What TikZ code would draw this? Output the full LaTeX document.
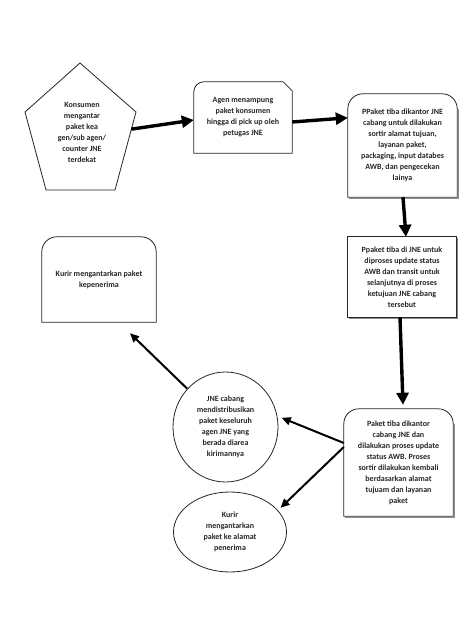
\documentclass[tikz,border=0pt]{standalone}
\usepackage{fontspec}
\setmainfont{Carlito}
\usetikzlibrary{arrows.meta,calc,shapes.geometric}
\tikzset{
  boxtext/.style={align=center,font=\fontsize{8}{11}\selectfont\bfseries,text=black!85,inner sep=0pt},
  outline/.style={draw=black!85,line width=0.8pt},
  shadowline/.style={draw=black!45,line width=0.8pt},
  bigarrow/.style={draw=black,line width=3.4pt,-{Triangle[length=12pt,width=12pt]}},
  thinarrow/.style={draw=black,line width=2pt,-{Triangle[length=9pt,width=8pt]}},
}
\begin{document}
\begin{tikzpicture}[x=1pt,y=1pt]
\useasboundingbox[fill=white] (0,0) rectangle (474,-632);

% pentagon
\coordinate (pt) at (80,-63);
\coordinate (pl) at (25,-112);
\coordinate (pr) at (136,-112);
\coordinate (pbl) at (46,-190);
\coordinate (pbr) at (115,-190);
\draw[outline] (pt) -- (pr) -- (pbr) -- (pbl) -- (pl) -- cycle;
\node[boxtext] (p) at (82,-132) {Konsumen\\mengantar\\paket kea\\gen/sub agen/\\counter JNE\\terdekat};
\coordinate (pout) at ($(pr)!0.22!(pbr)$);

% box 2 (rounded top-left, snipped top-right)
\node[boxtext,minimum width=98pt,minimum height=71pt] (b2) at (243,-117.5) {Agen menampung\\paket konsumen\\hingga di pick up oleh\\petugas JNE};
\draw[outline] (b2.south west) -- ([yshift=-10pt]b2.north west) arc[start angle=180,end angle=90,radius=10pt] -- ([xshift=-9pt]b2.north east) -- ([yshift=-9pt]b2.north east) -- (b2.south east) -- cycle;

% box 3
\node[boxtext,minimum width=109pt,minimum height=103pt] (b3) at (402.5,-145.5) {PPaket tiba dikantor JNE\\cabang untuk dilakukan\\sortir alamat tujuan,\\layanan paket,\\packaging, input databes\\AWB, dan pengecekan\\lainya};
\draw[shadowline] ([shift={(1pt,-1pt)}]b3.south west) -- ([shift={(1pt,-1pt)}]b3.south east) -- ([shift={(1pt,-15pt)}]b3.north east);
\draw[outline] (b3.south west) -- ([yshift=-15pt]b3.north west) arc[start angle=180,end angle=90,radius=15pt] -- ([xshift=-15pt]b3.north east) arc[start angle=90,end angle=0,radius=15pt] -- (b3.south east) -- cycle;

% box 4
\node[boxtext,minimum width=108pt,minimum height=80pt] (b4) at (402,-277) {Ppaket tiba di JNE untuk\\diproses update status\\AWB dan transit untuk\\selanjutnya di proses\\ketujuan JNE cabang\\tersebut};
\draw[shadowline] ([shift={(1pt,-1pt)}]b4.south west) -- ([shift={(1pt,-1pt)}]b4.south east) -- ([shift={(1pt,-1pt)}]b4.north east);
\draw[outline] (b4.south west) rectangle (b4.north east);

% box 5
\node[boxtext,minimum width=114pt,minimum height=85pt] (b5) at (99,-279.5) {Kurir mengantarkan paket\\kepenerima};
\draw[outline] (b5.south west) -- ([yshift=-15pt]b5.north west) arc[start angle=180,end angle=90,radius=15pt] -- ([xshift=-15pt]b5.north east) arc[start angle=90,end angle=0,radius=15pt] -- (b5.south east) -- cycle;

% box 6
\node[boxtext,minimum width=109pt,minimum height=107pt] (b6) at (398.5,-462.5) {Paket tiba dikantor\\cabang JNE dan\\dilakukan proses update\\status AWB. Proses\\sortir dilakukan kembali\\berdasarkan alamat\\tujuam dan layanan\\paket};
\draw[shadowline] ([shift={(1pt,-1pt)}]b6.south west) -- ([shift={(1pt,-1pt)}]b6.south east) -- ([shift={(1pt,-15pt)}]b6.north east);
\draw[outline] (b6.south west) -- ([yshift=-15pt]b6.north west) arc[start angle=180,end angle=90,radius=15pt] -- ([xshift=-15pt]b6.north east) arc[start angle=90,end angle=0,radius=15pt] -- (b6.south east) -- cycle;

% ellipses
\node[boxtext,ellipse,outline,minimum width=105pt,minimum height=110pt] (c1) at (225.5,-427) {JNE cabang\\mendistribusikan\\paket keseluruh\\agen JNE yang\\berada diarea\\kirimannya};
\node[boxtext,ellipse,outline,minimum width=113pt,minimum height=80pt] (e2) at (230,-532) {Kurir\\mengantarkan\\paket ke alamat\\penerima};

% arrows
\draw[bigarrow] (pout) -- ([yshift=-2.5pt]b2.west);
\draw[bigarrow] ([yshift=-4.5pt]b2.east) -- ([yshift=-24pt]b3.north west);
\draw[bigarrow] ([xshift=0.5pt]b3.south) -- ([xshift=4pt]b4.north);
\draw[bigarrow] ([xshift=-2pt]b4.south) -- ([shift={(4.5pt,4pt)}]b6.north);
\draw[thinarrow] ([yshift=19.5pt]b6.west) -- ([shift={(4pt,0pt)}]c1.10);
\draw[thinarrow] ([yshift=15.5pt]b6.west) -- ([shift={(3pt,2pt)}]e2.25);
\draw[thinarrow] (c1.135) -- ([shift={(31pt,-11pt)}]b5.south);
\end{tikzpicture}
\end{document}
